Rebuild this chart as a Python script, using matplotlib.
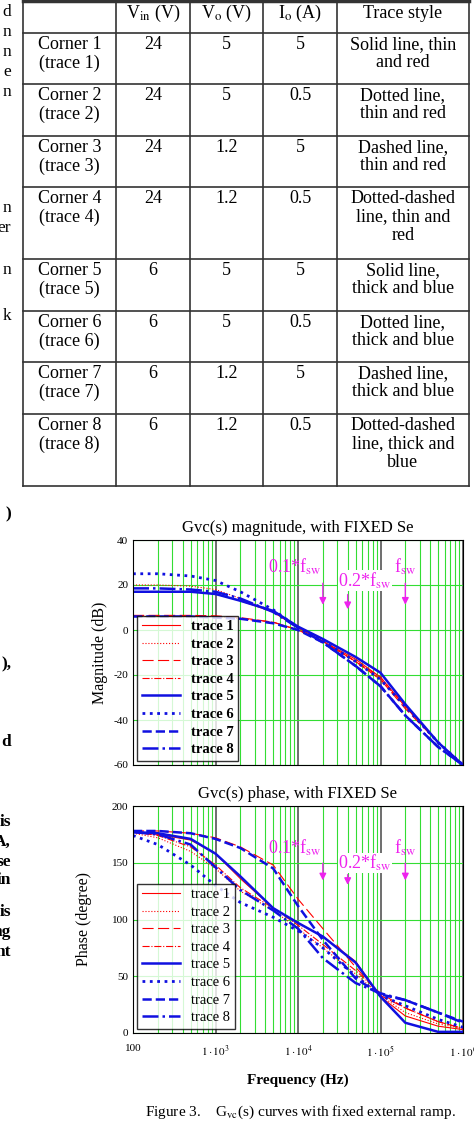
import matplotlib
matplotlib.use("Agg")
from matplotlib import pyplot as plt
import numpy as np

plt.rcParams["font.family"] = ["Liberation Serif", "DejaVu Serif"]
plt.rcParams["mathtext.fontset"] = "stix"

W, H = 474, 1131

# ---- table data ----
header = ["", "V$_{\\rm in}$ (V)", "V$_{\\rm o}$ (V)", "I$_{\\rm o}$ (A)", "Trace style"]
corners = ["Corner 1\n(trace 1)", "Corner 2\n(trace 2)", "Corner 3\n(trace 3)", "Corner 4\n(trace 4)",
           "Corner 5\n(trace 5)", "Corner 6\n(trace 6)", "Corner 7\n(trace 7)", "Corner 8\n(trace 8)"]
vin = ["24", "24", "24", "24", "6", "6", "6", "6"]
vo = ["5", "5", "1.2", "1.2", "5", "5", "1.2", "1.2"]
io = ["5", "0.5", "5", "0.5", "5", "0.5", "5", "0.5"]
styles_txt = ["Solid line, thin\nand red", "Dotted line,\nthin and red", "Dashed line,\nthin and red",
              "Dotted-dashed\nline, thin and\nred", "Solid line,\nthick and blue", "Dotted line,\nthick and blue",
              "Dashed line,\nthick and blue", "Dotted-dashed\nline, thick and\nblue"]

# ---- curve data ----
freq = [100, 200, 500, 1e3, 2e3, 5e3, 1e4, 2e4, 5e4, 1e5, 2e5, 5e5, 1e6]
mag = {
    1: [17, 17, 17, 16, 13, 8, 1, -5, -13, -21, -34, -50, -60],
    2: [20, 20, 19.5, 18, 14, 8, 1, -5, -14, -22, -34, -50, -60],
    3: [6.5, 6.5, 6.5, 6.3, 5.5, 3.5, 0, -5, -14, -22, -35, -50, -60],
    4: [6, 6, 6, 6, 5, 3.5, 0, -5, -14, -21, -34, -50, -60],
    5: [17, 17, 17, 16, 13, 8.5, 1.5, -4, -12, -19, -33, -50, -60],
    6: [25, 25, 24, 22, 17, 9, 1, -5, -14, -22, -34, -50, -60],
    7: [6, 6, 6, 5.5, 5, 3, 0, -5.5, -16, -25, -38, -52, -60],
    8: [18.5, 18.5, 18, 17, 14, 8, 1, -5.5, -16, -25, -38, -52, -60],
}
phase = {
    1: [177, 175, 170, 158, 136, 110, 97, 85, 63, 32, 15, 6, 3],
    2: [176, 172, 160, 145, 125, 108, 92, 75, 52, 33, 18, 8, 4],
    3: [178, 178, 176, 172, 164, 148, 118, 92, 58, 33, 22, 10, 4],
    4: [177, 174, 164, 148, 128, 110, 95, 78, 55, 35, 22, 10, 4],
    5: [177, 176, 171, 158, 138, 110, 97, 85, 62, 32, 9, 1, 1],
    6: [174, 166, 148, 130, 115, 102, 90, 75, 50, 33, 24, 12, 5],
    7: [178, 178, 176, 171, 163, 145, 112, 82, 48, 34, 29, 18, 10],
    8: [177, 175, 166, 146, 126, 108, 92, 66, 44, 35, 29, 18, 9],
}
trace_style = {
    1: ("red", "-", 0.8), 2: ("red", ":", 0.8), 3: ("red", (0, (10, 4)), 0.8), 4: ("red", "-.", 0.8),
    5: ("#1010e0", "-", 1.8), 6: ("#1010e0", ":", 2.0), 7: ("#1010e0", "--", 1.8), 8: ("#1010e0", "-.", 1.8),
}

fig = plt.figure(figsize=(W / 100, H / 100), dpi=100)
fig.patch.set_facecolor("white")


def fx(px):
    return px / W


def fy(py):
    return 1 - py / H


# ---- table ----
cols = [23, 116, 190, 263, 337, 469]
rows = [1, 33, 84, 136, 187, 259, 311, 362, 414, 486]
lc = "#333333"
for c in cols:
    fig.add_artist(plt.Line2D([fx(c)] * 2, [fy(rows[0]), fy(rows[-1])], color=lc, lw=1.2))
for i, r in enumerate(rows):
    fig.add_artist(plt.Line2D([fx(cols[0]), fx(cols[-1])], [fy(r)] * 2, color=lc, lw=2.5 if i == 0 else 1.2))
for j, t in enumerate(header):
    fig.text(fx((cols[j] + cols[j + 1]) / 2), fy(13), t, ha="center", va="center", fontsize=13)
for i in range(8):
    top = rows[i + 1] + 3
    cells = [corners[i], vin[i], vo[i], io[i], styles_txt[i]]
    for j, t in enumerate(cells):
        fig.text(fx((cols[j] + cols[j + 1]) / 2), fy(top), t, ha="center", va="top",
                 fontsize=13, linespacing=1.1)

# cut-off text from the page's left column
frags = [(12, "d"), (32, "n"), (52, "n"), (72, "e"), (92, "n"), (208, "n"), (228, "er"), (270, "n"),
         (316, "k"), (514, ")"), (664, "),"), (742, "d"), (822, "is"), (842, "A,"), (862, "se"),
         (880, "in"), (912, "is"), (932, "ng"), (952, "nt")]
for py, t in frags:
    fig.text(fx(11), fy(py), t, ha="right", va="center", fontsize=12.5, weight="bold" if py > 500 else "normal")


# ---- Bode plots ----
def bode(ax, data, ylim, yticks, title, ann_y, bold_legend):
    ax.set_xscale("log")
    ax.set_xlim(100, 1e6)
    ax.set_ylim(*ylim)
    ax.set_yticks(yticks)
    ax.yaxis.grid(True, color="#33dd33", lw=0.8)
    for d in [1e2, 1e3, 1e4, 1e5, 1e6]:
        for m in range(2, 10):
            if d * m < 1e6:
                ax.axvline(d * m, color="#33dd33", lw=0.8, zorder=0)
        ax.axvline(d, color="#555555", lw=1.2, zorder=0)
    for k in range(1, 9):
        c, ls, lw = trace_style[k]
        ax.plot(freq, data[k], color=c, ls=ls, lw=lw, label="trace %d" % k)
    ax.tick_params(labelsize=8, length=0)
    ax.set_title(title, fontsize=12, pad=6)
    leg = ax.legend(loc="lower left", fontsize=10.5, frameon=True, fancybox=False, edgecolor="black",
                    borderaxespad=0.3, handlelength=2.6, labelspacing=0.3, borderpad=0.3)
    leg.get_frame().set_linewidth(1)
    if bold_legend:
        for t in leg.get_texts():
            t.set_fontweight("bold")
    ty, tip, tail, ty2 = ann_y
    mg = "#ee22ee"
    ax.annotate("", xy=(2e4, tip), xytext=(2e4, tail), arrowprops=dict(arrowstyle="-|>", color=mg, lw=1))
    ax.annotate("", xy=(4e4, tip - (ylim[1] - ylim[0]) * 0.02), xytext=(4e4, tail - (ylim[1] - ylim[0]) * 0.05),
                arrowprops=dict(arrowstyle="-|>", color=mg, lw=1))
    ax.annotate("", xy=(2e5, tip), xytext=(2e5, tail), arrowprops=dict(arrowstyle="-|>", color=mg, lw=1))
    ax.text(1.9e4, ty, "0.1*f$_{\\rm sw}$", color=mg, fontsize=13, ha="right", va="center")
    ax.text(6.5e4, ty2, "0.2*f$_{\\rm sw}$", color=mg, fontsize=13, ha="center", va="center",
            bbox=dict(facecolor="white", edgecolor="none", pad=0))
    ax.text(2e5, ty, "f$_{\\rm sw}$", color=mg, fontsize=13, ha="center", va="center")


ax1 = fig.add_axes([fx(133), fy(765), fx(463 - 133), (765 - 540) / H])
bode(ax1, mag, (-60, 40), [40, 20, 0, -20, -40, -60], "Gvc(s) magnitude, with FIXED Se", (28, 10, 22, 22), True)
ax1.set_xticklabels([])
ax1.set_xticks([], minor=True)
ax1.set_yticklabels(["40", "20", "0", "-20", "-40", "-60"])
ax1.set_ylabel("Magnitude (dB)", fontsize=11.5)

ax2 = fig.add_axes([fx(133), fy(1033), fx(463 - 133), (1033 - 806) / H])
bode(ax2, phase, (0, 200), [0, 50, 100, 150, 200], "Gvc(s) phase, with FIXED Se", (163, 132, 152, 150), False)
ax2.set_xticks([100, 1e3, 1e4, 1e5, 1e6])
ax2.set_xticks([], minor=True)
ax2.set_xticklabels(["100", "$1\\cdot10^3$", "$1\\cdot10^4$", "$1\\cdot10^5$", "$1\\cdot10^6$"])
ax2.tick_params(axis="x", pad=8)
ax2.set_ylabel("Phase (degree)", fontsize=11.5, labelpad=14)
ax2.set_xlabel("Frequency (Hz)", fontsize=11, weight="bold", labelpad=10)

fig.text(fx(300), fy(1112), "Figure 3.    G$_{\\rm vc}$(s) curves with fixed external ramp.",
         ha="center", va="center", fontsize=11)

fig.savefig("out.png", dpi=100)
